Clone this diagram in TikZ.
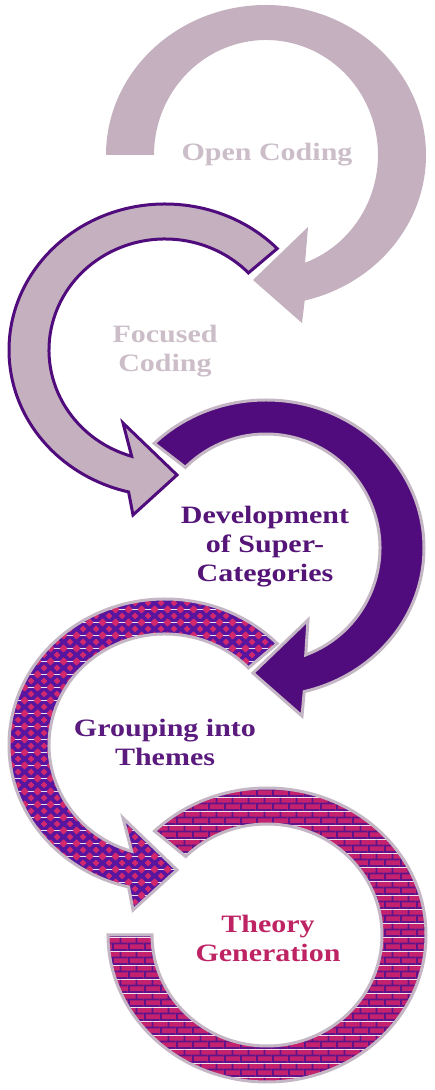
\documentclass[tikz,border=0pt]{standalone}
\usepackage{fontspec}
\setmainfont{Liberation Serif}
\usetikzlibrary{calc,patterns.meta}
\definecolor{mauve}{RGB}{196,176,190}
\definecolor{mauvetext}{RGB}{204,190,200}
\definecolor{dpurple}{RGB}{80,12,124}
\definecolor{rimgray}{RGB}{196,182,196}
\definecolor{patpurple}{RGB}{88,22,160}
\definecolor{patmagenta}{RGB}{210,40,110}
\definecolor{brickmag}{RGB}{196,34,110}
\definecolor{brickpurple}{RGB}{96,20,140}
\definecolor{devtext}{RGB}{84,20,120}
\definecolor{themetext}{RGB}{90,26,126}
\definecolor{theorytext}{RGB}{190,36,100}
\tikzdeclarepattern{
  name=diamondcheck,
  type=colored,
  bottom left={(0pt,0pt)},
  top right={(13pt,13pt)},
  tile size={(13pt,13pt)},
  code={
    \fill[patpurple] (0pt,0pt) rectangle (13pt,13pt);
    \fill[patmagenta] (6.5pt,2.9pt) -- (10.1pt,6.5pt) -- (6.5pt,10.1pt) -- (2.9pt,6.5pt) -- cycle;
    \fill[patmagenta] (0pt,-3.6pt) -- (3.6pt,0pt) -- (0pt,3.6pt) -- (-3.6pt,0pt) -- cycle;
    \fill[patmagenta] (13pt,-3.6pt) -- (16.6pt,0pt) -- (13pt,3.6pt) -- (9.4pt,0pt) -- cycle;
    \fill[patmagenta] (0pt,9.4pt) -- (3.6pt,13pt) -- (0pt,16.6pt) -- (-3.6pt,13pt) -- cycle;
    \fill[patmagenta] (13pt,9.4pt) -- (16.6pt,13pt) -- (13pt,16.6pt) -- (9.4pt,13pt) -- cycle;
  }
}
\tikzdeclarepattern{
  name=brickwall,
  type=colored,
  bottom left={(0pt,0pt)},
  top right={(16pt,14pt)},
  tile size={(16pt,14pt)},
  code={
    \fill[brickmag] (0pt,0pt) rectangle (16pt,14pt);
    \draw[brickpurple,line width=2pt] (0pt,1pt) -- (16pt,1pt) (0pt,8pt) -- (16pt,8pt)
      (1pt,1pt) -- (1pt,8pt) (9pt,8pt) -- (9pt,14pt);
  }
}
\tikzset{
  lbl/.style={font=\bfseries\fontsize{25}{29}\selectfont, align=center, xscale=1.2, inner sep=0pt},
  plainarrow/.style={fill=mauve},
  outlinedarrow/.style={fill=mauve, draw=dpurple, line width=3pt, line join=miter},
  solidarrow/.style={fill=dpurple, draw=rimgray, line width=3pt, line join=miter},
  checkarrow/.style={pattern=diamondcheck, draw=rimgray, line width=3pt, line join=miter},
  brickring/.style={pattern=brickwall, draw=rimgray, line width=3pt, line join=miter},
}
\begin{document}
\begin{tikzpicture}[x=1pt,y=1pt]
\fill[white] (0,0) rectangle (434,1090);
\useasboundingbox (0,0) rectangle (434,1090);
\coordinate (C1) at (266,935);
\coordinate (C2) at (165,740);
\coordinate (C3) at (266,542);
\coordinate (C4) at (165,345);
\coordinate (C5) at (267,155);

% Arrow 1: Open Coding
\path[plainarrow] (C1) ++(180:160 and 150)
  arc[start angle=180, end angle=-76, x radius=160, y radius=150]
  -- ($(C1)+(36,-168)$) -- ($(C1)+(-13,-125)$) -- ($(C1)+(42,-72)$)
  -- ($(C1)+(-69.6:112 and 115)$)
  arc[start angle=-69.6, end angle=180, x radius=112, y radius=115] -- cycle;

% Arrow 2: Focused Coding
\path[outlinedarrow] (C2) ++(44:156 and 146)
  arc[start angle=44, end angle=256.5, x radius=156, y radius=146]
  -- ($(C2)+(-32,-165)$) -- ($(C2)+(12,-125)$) -- ($(C2)+(-42,-73)$)
  -- ($(C2)+(253.3:116 and 111)$)
  arc[start angle=253.3, end angle=44, x radius=116, y radius=111] -- cycle;

% Arrow 3: Development of Super-Categories
\path[solidarrow] (C3) ++(135:158 and 148)
  arc[start angle=135, end angle=-76, x radius=158, y radius=148]
  -- ($(C3)+(36,-168)$) -- ($(C3)+(-13,-125)$) -- ($(C3)+(42,-72)$)
  -- ($(C3)+(-69.6:114 and 114)$)
  arc[start angle=-69.6, end angle=135, x radius=114, y radius=114] -- cycle;

% Arrow 4: Grouping into Themes
\path[checkarrow] (C4) ++(44:156 and 146)
  arc[start angle=44, end angle=256.5, x radius=156, y radius=146]
  -- ($(C4)+(-32,-165)$) -- ($(C4)+(12,-125)$) -- ($(C4)+(-42,-73)$)
  -- ($(C4)+(253.3:116 and 111)$)
  arc[start angle=253.3, end angle=44, x radius=116, y radius=111] -- cycle;

% Ring 5: Theory Generation
\path[brickring] (C5) ++(135:159 and 147)
  arc[start angle=135, end angle=-180, x radius=159, y radius=147]
  -- ($(C5)+(180:115 and 111)$)
  arc[start angle=-180, end angle=135, x radius=115, y radius=111] -- cycle;

\node[lbl, text=mauvetext] (open) at (267,935) {Open Coding};
\node[lbl, text=mauvetext] (focused) at (165,739) {Focused\\Coding};
\node[lbl, text=devtext] (dev) at (265,543) {Development\\of Super-\\Categories};
\node[lbl, text=themetext] (group) at (165,348) {Grouping into\\Themes};
\node[lbl, text=theorytext] (theory) at (268,152) {Theory\\Generation};
\end{tikzpicture}
\end{document}
